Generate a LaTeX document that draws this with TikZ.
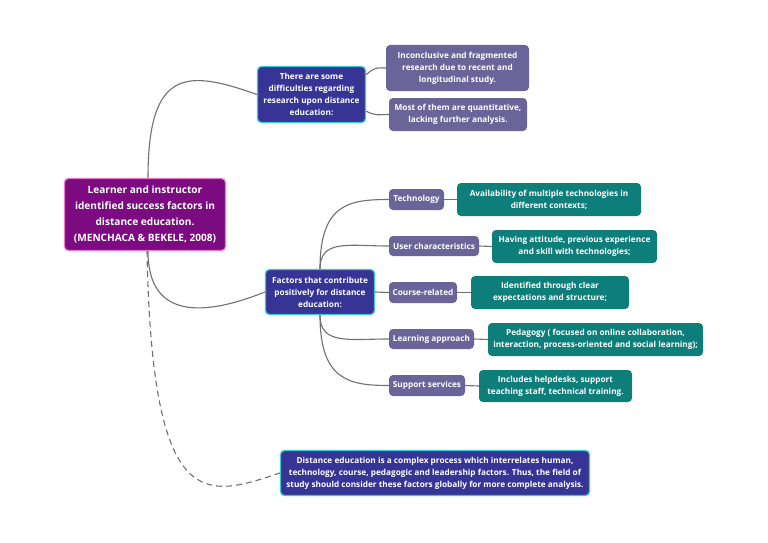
\documentclass[tikz,border=0pt]{standalone}
\usepackage{fontspec}
\setmainfont{Open Sans}
\definecolor{rootc}{RGB}{124,10,128}
\definecolor{rootb}{RGB}{238,118,198}
\definecolor{topic}{RGB}{54,52,148}
\definecolor{topicb}{RGB}{58,200,216}
\definecolor{item}{RGB}{107,100,153}
\definecolor{leaf}{RGB}{14,126,122}
\definecolor{wire}{RGB}{112,112,112}

\begin{document}
\begin{tikzpicture}[x=1pt, y=-1pt,
  box/.style={rounded corners=4pt, text=white, align=center, inner sep=0pt},
  rootbox/.style={box, fill=rootc, draw=rootb, line width=1.2pt,
    font=\fontsize{10.1}{16}\selectfont\bfseries},
  topicbox/.style={box, fill=topic, draw=topicb, line width=1.2pt,
    font=\fontsize{8.25}{12}\selectfont\bfseries},
  itembox/.style={box, fill=item, font=\fontsize{8.25}{12}\selectfont\bfseries},
  leafbox/.style={box, fill=leaf, font=\fontsize{8.25}{12}\selectfont\bfseries},
  link/.style={draw=wire, line width=1.1pt}]
  \useasboundingbox (0,0) rectangle (768,543);
  % nodo central
  \node[rootbox, minimum width=161pt, minimum height=72pt] (root) at (145,214.5)
    {Learner and instructor\\identified success factors in\\distance education.\\(MENCHACA \& BEKELE, 2008)};
  % rama superior
  \node[topicbox, minimum width=108pt, minimum height=56pt] (diff) at (311.5,94.5)
    {There are some\\difficulties regarding\\research upon distance\\education:};
  \node[itembox, minimum width=143pt, minimum height=46pt] (incon) at (457.5,68)
    {Inconclusive and fragmented\\research due to recent and\\longitudinal study.};
  \node[itembox, minimum width=138pt, minimum height=33pt] (quant) at (458,114.5)
    {Most of them are quantitative,\\lacking further analysis.};
  % rama de factores
  \node[topicbox, minimum width=109pt, minimum height=45pt] (fact) at (320,292)
    {Factors that contribute\\positively for distance\\education:};
  \node[itembox, minimum width=55pt, minimum height=21pt] (tech) at (416.5,199.5) {Technology};
  \node[itembox, minimum width=90pt, minimum height=20pt] (user) at (434,246) {User characteristics};
  \node[itembox, minimum width=68pt, minimum height=21pt] (course) at (423,292.5) {Course-related};
  \node[itembox, minimum width=85pt, minimum height=20pt] (learn) at (431.5,339) {Learning approach};
  \node[itembox, minimum width=76pt, minimum height=21pt] (supp) at (427,385.5) {Support services};
  % hojas
  \node[leafbox, minimum width=184pt, minimum height=33pt] (avail) at (549,199.5)
    {Availability of multiple technologies in\\different contexts;};
  \node[leafbox, minimum width=165pt, minimum height=33pt] (attit) at (574.5,246.5)
    {Having attitude, previous experience\\and skill with technologies;};
  \node[leafbox, minimum width=158pt, minimum height=33pt] (ident) at (550,292.5)
    {Identified through clear\\expectations and structure;};
  \node[leafbox, minimum width=215pt, minimum height=33pt] (pedag) at (595.5,339.5)
    {Pedagogy ( focused on online collaboration,\\interaction, process-oriented and social learning);};
  \node[leafbox, minimum width=153pt, minimum height=32pt] (incl) at (555.5,386)
    {Includes helpdesks, support\\teaching staff, technical training.};
  % nota final
  \node[topicbox, minimum width=309pt, minimum height=45pt] (note) at (435,473)
    {Distance education is a complex process which interrelates human,\\technology, course, pedagogic and leadership factors. Thus, the field of\\study should consider these factors globally for more complete analysis.};
  % conectores
  \draw[link] ([xshift=3pt]root.north) .. controls +(0,-110) and +(-70,-25) .. (diff.west);
  \draw[link] ([xshift=3pt]root.south) .. controls +(0,75) and +(-50,20) .. (fact.west);
  \draw[link, dash pattern=on 6pt off 4pt] ([xshift=2pt]root.south) .. controls +(5,265) and +(-75,25) .. (note.west);
  \draw[link] (diff.20) .. controls +(10,-8) and +(-10,0) .. (incon.west);
  \draw[link] (diff.-17) .. controls +(10,5) and +(-10,0) .. (quant.west);
  \draw[link] (fact.north) .. controls +(0,-65) and +(-40,0) .. (tech.west);
  \draw[link] (fact.north) .. controls +(0,-30) and +(-40,0) .. (user.west);
  \draw[link] (fact.east) -- (course.west);
  \draw[link] (fact.south) .. controls +(0,30) and +(-40,0) .. (learn.west);
  \draw[link] (fact.south) .. controls +(0,65) and +(-40,0) .. (supp.west);
  \draw[link] (tech.east) -- (avail.west);
  \draw[link] (user.east) -- (attit.west);
  \draw[link] (course.east) -- (ident.west);
  \draw[link] (learn.east) -- (pedag.west);
  \draw[link] (supp.east) -- (incl.west);
\end{tikzpicture}
\end{document}
